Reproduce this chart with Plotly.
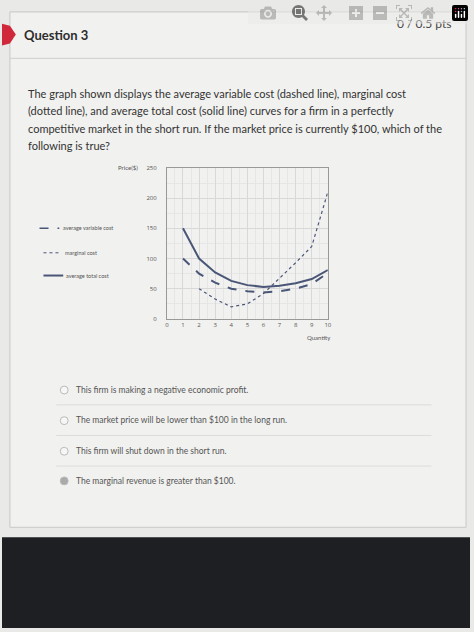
import plotly.graph_objects as go

qty_atc = [1, 2, 3, 4, 5, 6, 7, 8, 9, 10]
atc = [150, 100, 77, 63, 56, 53, 55, 59, 66, 81]
qty_avc = [1, 2, 3, 4, 5, 6, 7, 8, 9, 10]
avc = [100, 75, 60, 50, 46, 44, 46, 50, 58, 76]
qty_mc = [2, 3, 4, 5, 6, 7, 8, 9, 10]
mc = [50, 33, 20, 25, 42, 67, 93, 120, 210]
x_ticks = list(range(0, 11))
y_ticks = [0, 50, 100, 150, 200, 250]

W, H = 474, 632
def px(x): return x / W
def py(y): return 1 - y / H

fig = go.Figure()
line_col = "#4a5677"
fig.add_trace(go.Scatter(x=qty_avc, y=avc, mode="lines", line=dict(color=line_col, width=2, dash="dash"), showlegend=False))
fig.add_trace(go.Scatter(x=qty_mc, y=mc, mode="lines", line=dict(color=line_col, width=1.2, dash="dot"), showlegend=False))
fig.add_trace(go.Scatter(x=qty_atc, y=atc, mode="lines", line=dict(color=line_col, width=2), showlegend=False))

shapes = [
    dict(type="rect", xref="paper", yref="paper", x0=0, x1=1, y0=py(540), y1=1, fillcolor="#e9e9e7", line_width=0, layer="below"),
    dict(type="rect", xref="paper", yref="paper", x0=0, x1=1, y0=0, y1=py(540), fillcolor="#1d1f22", line_width=0, layer="below"),
    dict(type="rect", xref="paper", yref="paper", x0=px(8), x1=px(470), y0=py(530), y1=py(8), fillcolor="#f1f1ef", line=dict(color="#c8c8c8", width=1), layer="below"),
    dict(type="line", xref="paper", yref="paper", x0=px(8), x1=px(470), y0=py(55), y1=py(55), line=dict(color="#cfcfcf", width=1)),
    dict(type="path", xref="paper", yref="paper", path=f"M 0 {py(20)} L {px(8)} {py(22)} L {px(14)} {py(31)} L {px(8)} {py(40)} L 0 {py(42)} Z", fillcolor="#d0283a", line_width=0),
]
for yy in [406, 437, 468]:
    shapes.append(dict(type="line", xref="paper", yref="paper", x0=px(55), x1=px(435), y0=py(yy), y1=py(yy), line=dict(color="#dcdcdc", width=1)))
for yy in [391, 422, 453, 483]:
    shapes.append(dict(type="circle", xref="paper", yref="paper", x0=px(59), x1=px(67), y0=py(yy + 4), y1=py(yy - 4),
                       line=dict(color="#bbbbbb", width=1), fillcolor="#f6f6f6" if yy != 483 else "#aaaaaa"))
shapes += [
    dict(type="line", xref="paper", yref="paper", x0=px(38), x1=px(58), y0=py(227), y1=py(227), line=dict(color=line_col, width=1.5, dash="dash")),
    dict(type="line", xref="paper", yref="paper", x0=px(42), x1=px(60), y0=py(252), y1=py(252), line=dict(color=line_col, width=1, dash="dot")),
    dict(type="line", xref="paper", yref="paper", x0=px(42), x1=px(62), y0=py(275), y1=py(275), line=dict(color=line_col, width=2)),
]

ann = []
def t(x, y, s, size=11, color="#3a3a3a", anchor="left", bold=False):
    ann.append(dict(xref="paper", yref="paper", x=px(x), y=py(y), text=f"<b>{s}</b>" if bold else s, showarrow=False,
                    xanchor=anchor, yanchor="middle", font=dict(size=size, color=color, family="Lato")))
t(20, 31, "Question 3", 13, "#2d2d2d", bold=True)
t(458, 20, "0 / 0.5 pts", 12, "#444", "right")
lines = ["The graph shown displays the average variable cost (dashed line), marginal cost",
         "(dotted line), and average total cost (solid line) curves for a firm in a perfectly",
         "competitive market in the short run. If the market price is currently $100, which of the",
         "following is true?"]
for i, s in enumerate(lines):
    t(24, 91 + i * 17.3, s, 11, "#333")
t(60, 227, "average variable cost", 5.5, "#555")
t(62, 252, "marginal cost", 5.5, "#555")
t(63, 275, "average total cost", 5.5, "#555")
t(140, 166, "Price($)", 6, "#555", "right")
t(307, 338, "Quantity", 6, "#555")
opts = ["This firm is making a negative economic profit.",
        "The market price will be lower than $100 in the long run.",
        "This firm will shut down in the short run.",
        "The marginal revenue is greater than $100."]
for i, s in enumerate(opts):
    t(73, 391 + i * 30.7, s, 8.5, "#555")

fig.update_layout(
    width=W, height=H, margin=dict(l=0, r=0, t=0, b=0),
    paper_bgcolor="#e9e9e7", plot_bgcolor="#f7f7f7",
    shapes=shapes, annotations=ann,
    xaxis=dict(domain=[px(167), px(330)], range=[0, 10], tickvals=x_ticks, tickfont=dict(size=6, color="#555"),
               showgrid=True, gridcolor="#d8d8d8", minor=dict(dtick=0.5, showgrid=True, gridcolor="#e6e6e6"),
               showline=True, linecolor="#999", mirror=True, zeroline=False),
    yaxis=dict(domain=[py(319), py(166)], range=[0, 250], tickvals=y_ticks,
               tickfont=dict(size=6, color="#555"), ticklabelstandoff=8,
               showgrid=True, gridcolor="#d8d8d8", minor=dict(dtick=25, showgrid=True, gridcolor="#e6e6e6"),
               showline=True, linecolor="#999", mirror=True, zeroline=False),
)
fig.write_html("out.html", post_script="document.body.style.margin='0';")
